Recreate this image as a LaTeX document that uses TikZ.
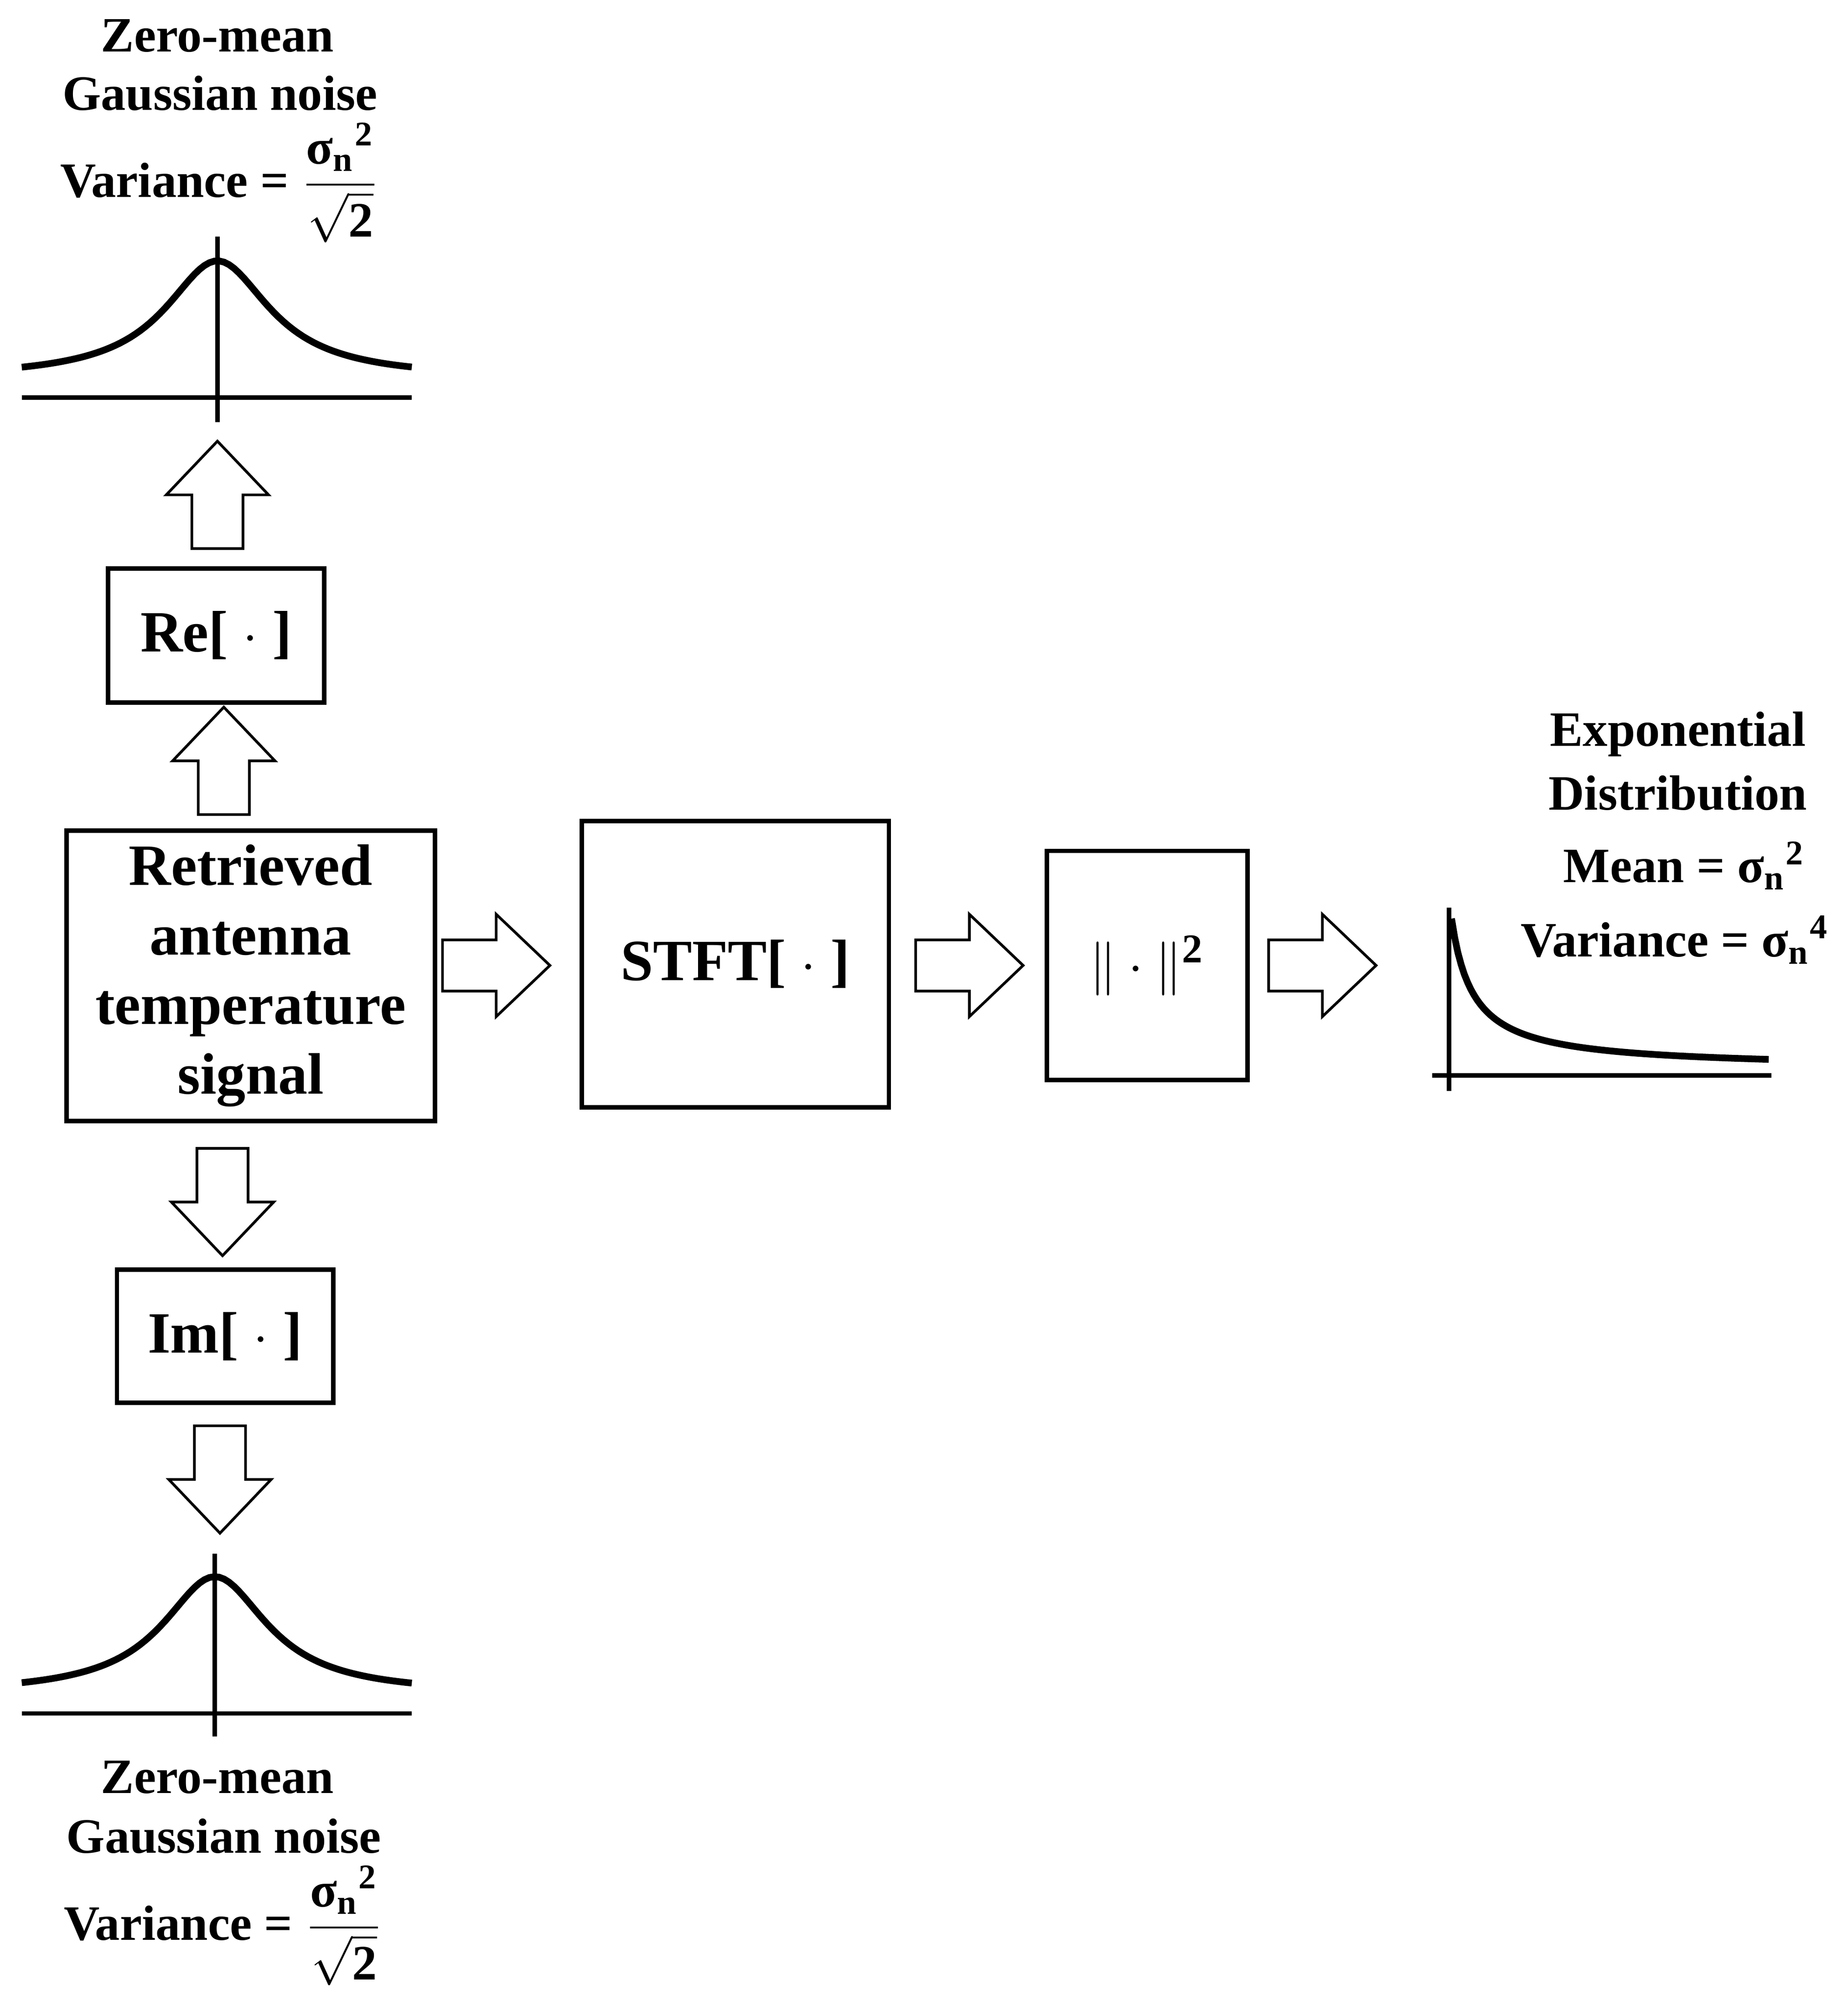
\documentclass[tikz,border=0pt]{standalone}
\usepackage{amsmath}
\usepackage{fontspec}
\setmainfont{Liberation Serif}
\newcommand\sgn[1]{σ\textsubscript{n}\textsuperscript{#1}}
\begin{document}
\begin{tikzpicture}[x=0.01cm,y=-0.01cm,
  box/.style={draw,line width=1pt,inner sep=0pt,font=\fontsize{13}{15.5}\selectfont\bfseries,align=center},
  lbl/.style={inner sep=0pt,font=\fontsize{11}{13}\selectfont\bfseries,align=center},
  curve/.style={line width=1.5pt},
  axis/.style={line width=1pt},
  barrow/.pic={\draw[line width=0.6pt,fill=white] (-42,-20) -- (0,-20) -- (0,-40) -- (42,0) -- (0,40) -- (0,20) -- (-42,20) -- cycle;}]
\useasboundingbox (0,0) rectangle (1445,1568);

% processing blocks
\node[box,minimum width=2.88cm,minimum height=2.27cm] (sig) at (196,763) {Retrieved\\ antenna\\temperature\\signal};
\node[box,minimum width=1.69cm,minimum height=1.05cm] (re) at (169,497) {Re[ $\cdot$ ]};
\node[box,minimum width=1.69cm,minimum height=1.04cm] (im) at (176,1045) {Im[ $\cdot$ ]};
\node[box,minimum width=2.40cm,minimum height=2.24cm] (stft) at (575,754) {STFT[ $\cdot$ ]};
\node[box,minimum width=1.57cm,minimum height=1.79cm] (nrm) at (897,755) {$\|\cdot\|$\textsuperscript{2}};

% block arrows
\pic[rotate=90] at (175,595) {barrow};
\pic[rotate=90] at (170,387) {barrow};
\pic[rotate=-90] at (174,940) {barrow};
\pic[rotate=-90] at (172,1157) {barrow};
\pic at (388,755) {barrow};
\pic at (758,755) {barrow};
\pic at (1034,755) {barrow};

% top gaussian
\draw[axis] (17,311) -- (322,311);
\draw[axis] (170,185) -- (170,330);
\draw[curve] plot[domain=-153:152,samples=80] ({170+\x},{311-(15+92/(1+(\x/50)^2))});
% bottom gaussian
\draw[axis] (17,1340) -- (322,1340);
\draw[axis] (168,1215) -- (168,1358);
\draw[curve] plot[domain=-151:154,samples=80] ({168+\x},{1340-(15+92/(1+(\x/50)^2))});
% exponential
\draw[axis] (1120,841) -- (1385,841);
\draw[axis] (1133,710) -- (1133,853);
\draw[curve] plot[domain=2:250,samples=100] ({1133+\x},{841-(5+2000/(\x+15))});

% labels
\node[lbl] (t1) at (170,28) {Zero-mean};
\node[lbl] (t2) at (172,73) {Gaussian noise};
\node[lbl] (t3) at (172,143) {Variance = $\dfrac{\text{\sgn{2}}}{\sqrt{\text{2}}}$};
\node[lbl] (b1) at (170,1390) {Zero-mean};
\node[lbl] (b2) at (175,1436) {Gaussian noise};
\node[lbl] (b3) at (175,1506) {Variance = $\dfrac{\text{\sgn{2}}}{\sqrt{\text{2}}}$};
\node[lbl] (e1) at (1312,574) {Exponential};
\node[lbl] (e2) at (1312,620) {Distribution};
\node[lbl] (e3) at (1317,677) {Mean = \sgn{2}};
\node[lbl] (e4) at (1310,735) {Variance = \sgn{4}};
\end{tikzpicture}
\end{document}
